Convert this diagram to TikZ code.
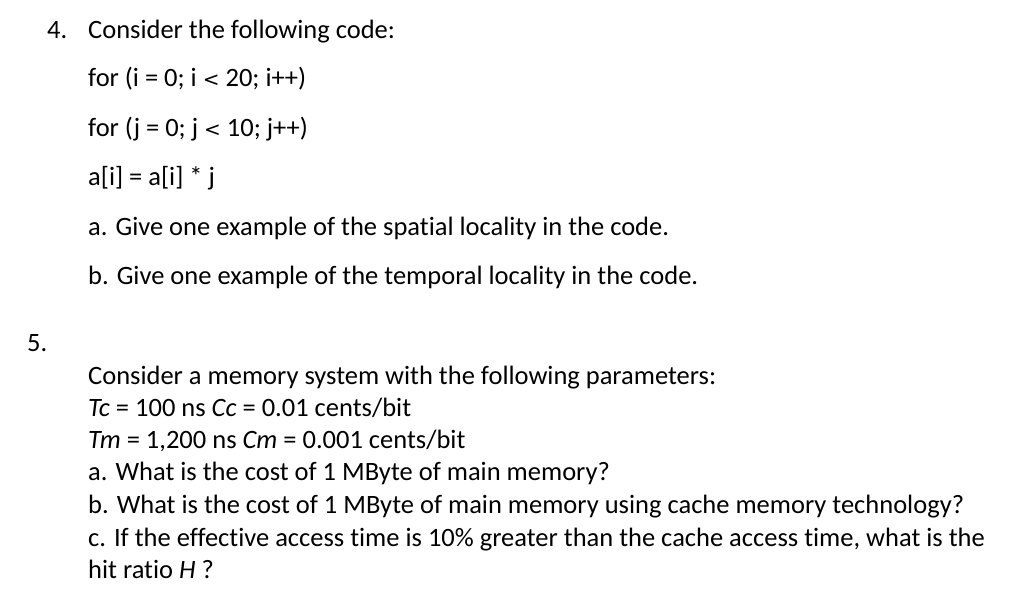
\documentclass[tikz,border=0pt]{standalone}
\usepackage{fontspec}
\setmainfont{Carlito}[Ligatures=NoCommon]
\begin{document}
\begin{tikzpicture}[x=1pt,y=-1pt,
  txt/.style={anchor=base west,inner sep=0pt,font=\fontsize{26.5}{30}\selectfont}]
\useasboundingbox (0,0) rectangle (1024,613);
\node[txt] (n4) at (47,38) {4.};
\node[txt] (q4) at (88,38) {Consider the following code:};
\node[txt] (l1) at (88,86) {for (i = 0; i {\fontspec{DejaVu Sans}\fontsize{20}{24}\selectfont<} 20; i++)};
\node[txt] (l2) at (88,136) {for (j = 0; j {\fontspec{DejaVu Sans}\fontsize{20}{24}\selectfont<} 10; j++)};
\node[txt] (l3) at (88,185) {a[i] = a[i] * j};
\node[txt] (qa) at (88,235) {a. Give one example of the spatial locality in the code.};
\node[txt] (qb) at (88,284) {b. Give one example of the temporal locality in the code.};
\node[txt] (n5) at (27,351) {5.};
\node[txt] (p0) at (88,384) {Consider a memory system with the following parameters:};
\node[txt] (p1) at (88,416) {\textit{Tc} = 100 ns \textit{Cc} = 0.01 cents/bit};
\node[txt] (p2) at (88,448) {\textit{Tm} = 1,200 ns \textit{Cm} = 0.001 cents/bit};
\node[txt] (p3) at (88,480) {a. What is the cost of 1 MByte of main memory?};
\node[txt] (p4) at (88,513) {b. What is the cost of 1 MByte of main memory using cache memory technology?};
\node[txt] (p5) at (88,546) {c. If the effective access time is 10\% greater than the cache access time, what is the};
\node[txt] (p6) at (88,578) {hit ratio \textit{H} ?};
\end{tikzpicture}
\end{document}
